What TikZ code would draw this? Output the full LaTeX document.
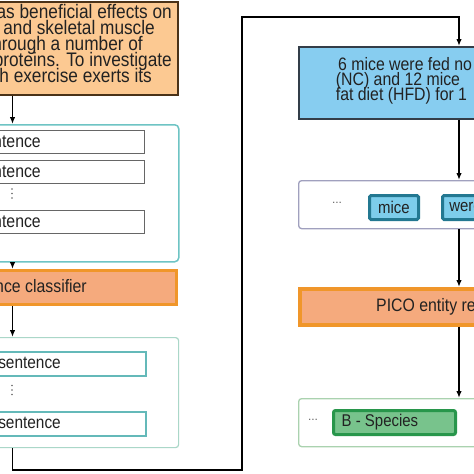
\documentclass[tikz,border=0pt]{standalone}
\usepackage{fontspec}
\setmainfont{Liberation Sans}
\newfontfamily\cond[FakeStretch=0.88]{Liberation Sans}
\usetikzlibrary{arrows.meta}
\definecolor{peach}{HTML}{FCC992}
\definecolor{brownb}{HTML}{4A3218}
\definecolor{tealc}{HTML}{6EC4C4}
\definecolor{grayb}{HTML}{666666}
\definecolor{salmon}{HTML}{F5AA7D}
\definecolor{orangeb}{HTML}{F0962A}
\definecolor{paleteal}{HTML}{AAD7C8}
\definecolor{innerteal}{HTML}{64B9B9}
\definecolor{skyb}{HTML}{87CDF0}
\definecolor{darkg}{HTML}{333D48}
\definecolor{lavb}{HTML}{A0A0BE}
\definecolor{tokfill}{HTML}{7DCDEB}
\definecolor{tokb}{HTML}{237891}
\definecolor{palegreen}{HTML}{AAD2AF}
\definecolor{gfill}{HTML}{78C38C}
\definecolor{gborder}{HTML}{28964B}
\definecolor{txtc}{HTML}{222222}
\begin{document}
\begin{tikzpicture}[x=1pt,y=-1pt,
  box/.style={draw, inner sep=0pt, anchor=north west},
  txt/.style={inner sep=0pt, text=txtc, font=\cond\fontsize{17}{17}\selectfont},
  sent/.style={inner sep=0pt, text=txtc, font=\cond\fontsize{18}{18}\selectfont},
  bigtxt/.style={inner sep=0pt, text=txtc, font=\cond\fontsize{19.6}{19.6}\selectfont},
  condtxt/.style={inner sep=0pt, text=txtc, font=\cond\fontsize{18}{15}\selectfont},
  dotstxt/.style={inner sep=0pt, text=grayb, font=\fontsize{12}{12}\selectfont},
  vdot/.style={fill=grayb, draw=none, circle, inner sep=0pt, minimum size=1.8pt},
  arr/.style={line width=1.8pt, -{Latex[length=7pt,width=5.5pt]}},
  ln/.style={line width=1.8pt}]
\useasboundingbox (0,0) rectangle (474,474);
\clip (0,0) rectangle (474,474);
\fill[white] (0,0) rectangle (474,474);

% guide coordinates
\coordinate (a1) at (12.5,0);
\coordinate (a2) at (459,0);
\coordinate (k1) at (242,470);
\coordinate (k2) at (242,17);

% top-left abstract box
\node[box, fill=peach, draw=brownb, line width=1.8pt, minimum width=197pt, minimum height=93pt] (intro) at (-20,0.9) {};
\node[bigtxt, anchor=base east] (l1) at (172,18) {as beneficial effects on};
\node[bigtxt, anchor=base east] (l2) at (155,34.5) {and skeletal muscle};
\node[bigtxt, anchor=base east] (l3) at (143,50) {hrough a number of};
\node[bigtxt, anchor=base east] (l4) at (172,66) {proteins. To investigate};
\node[bigtxt, anchor=base east] (l5) at (152,82.5) {ch exercise exerts its};

% sentence container
\node[box, draw=tealc, line width=1.5pt, rounded corners=4pt, minimum width=198pt, minimum height=137pt] (c1) at (-20,124) {};
\node[box, fill=white, draw=grayb, line width=1.4pt, minimum width=164pt, minimum height=23pt] (s1) at (-20,130) {};
\node[box, fill=white, draw=grayb, line width=1.4pt, minimum width=164pt, minimum height=23.5pt] (s2) at (-20,159.5) {};
\node[box, fill=white, draw=grayb, line width=1.4pt, minimum width=164pt, minimum height=23.5pt] (s3) at (-20,209.5) {};
\node[sent, anchor=base east] (st1) at (41,147.5) {ntence};
\node[sent, anchor=base east] (st2) at (41,177) {ntence};
\node[sent, anchor=base east] (st3) at (41,227) {ntence};
\node[vdot] (d1a) at (12,189) {};
\node[vdot] (d1b) at (12,193.5) {};
\node[vdot] (d1c) at (12,198) {};

% sentence classifier
\node[box, fill=salmon, draw=orangeb, line width=3pt, minimum width=195pt, minimum height=34pt] (cls) at (-20,269) {};
\node[sent, anchor=base east] (clst) at (87,292) {nce classifier};

% selected sentences container
\node[box, draw=paleteal, line width=1.2pt, rounded corners=3pt, minimum width=198pt, minimum height=110pt] (c2) at (-20,337) {};
\node[box, fill=white, draw=innerteal, line width=2pt, minimum width=165pt, minimum height=24pt] (b1) at (-20,351) {};
\node[box, fill=white, draw=innerteal, line width=2pt, minimum width=165pt, minimum height=24pt] (b2) at (-20,411) {};
\node[txt, anchor=base east, font=\cond\fontsize{17.5}{17.5}\selectfont] (bt1) at (61,368.5) {sentence};
\node[txt, anchor=base east, font=\cond\fontsize{17.5}{17.5}\selectfont] (bt2) at (61,428) {sentence};
\node[vdot] (d2a) at (12,385.5) {};
\node[vdot] (d2b) at (12,390) {};
\node[vdot] (d2c) at (12,394.5) {};

% blue sentence box
\node[box, fill=skyb, draw=darkg, line width=1.5pt, minimum width=190pt, minimum height=72pt] (blue) at (298,46) {};
\node[condtxt, anchor=base west] (m1) at (338,70.7) {6 mice were fed no};
\node[condtxt, anchor=base west] (m2) at (335.7,85.7) {(NC) and 12 mice};
\node[condtxt, anchor=base west] (m3) at (335.7,100.7) {fat diet (HFD) for 1};

% token container
\node[box, fill=white, draw=lavb, line width=1.3pt, rounded corners=3pt, minimum width=190pt, minimum height=48pt] (tok) at (298,180) {};
\node[dotstxt] (e1) at (337,203) {...};
\node[box, fill=tokfill, draw=tokb, line width=3pt, rounded corners=1.5pt, minimum width=49pt, minimum height=24pt, txt] (mice) at (368,194) {mice};
\node[box, fill=tokfill, draw=tokb, line width=3pt, rounded corners=1.5pt, minimum width=46pt, minimum height=24pt, txt] (were) at (441,194) {were};

% PICO recognizer
\node[box, fill=salmon, draw=orangeb, line width=3.5pt, minimum width=190pt, minimum height=36pt] (pico) at (298,287) {};
\node[inner sep=0pt, text=txtc, font=\cond\fontsize{18}{18}\selectfont, anchor=base west] (picot) at (376,311.5) {PICO entity re};

% result container
\node[box, fill=white, draw=palegreen, line width=1.3pt, rounded corners=3pt, minimum width=190pt, minimum height=48pt] (res) at (298,398) {};
\node[dotstxt] (e2) at (313,420) {...};
\node[box, fill=gfill, draw=gborder, line width=3pt, rounded corners=2pt, minimum width=122pt, minimum height=24pt] (bs) at (332,409) {};
\node[txt, anchor=base west] (bst) at (341.5,426.5) {B - Species};

% connectors
\draw[arr] (intro.south -| a1) -- (c1.north -| a1);
\draw[arr] (c1.south -| a1) -- (cls.north -| a1);
\draw[arr] (cls.south -| a1) -- (c2.north -| a1);
\draw[arr] (c2.south -| a1) |- (k1) -- (k2) -| (blue.north -| a2);
\draw[arr] (blue.south -| a2) -- (tok.north -| a2);
\draw[arr] (tok.south -| a2) -- (pico.north -| a2);
\draw[arr] (pico.south -| a2) -- (res.north -| a2);
\end{tikzpicture}
\end{document}
